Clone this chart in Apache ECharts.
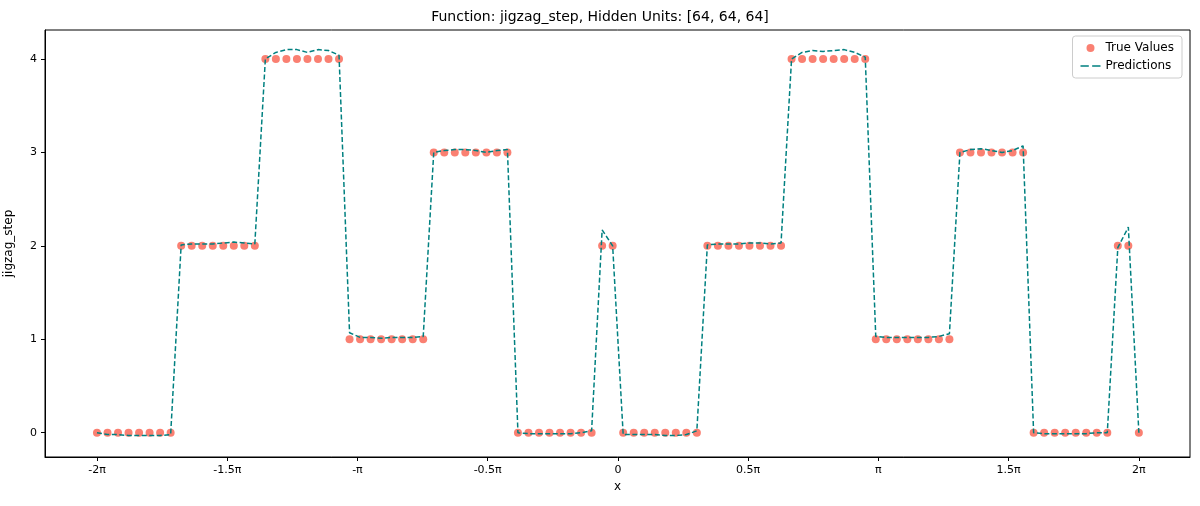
<!DOCTYPE html>
<html lang="en">
<head>
  <meta charset="UTF-8">
  <title>jigzag_step</title>
  <style>body{margin:0;background:#fff}</style>
</head>
<body>
<div id="main" style="width:1200px;height:506px;"></div>
<script src="https://cdn.jsdelivr.net/npm/echarts@6/dist/echarts.min.js"></script>
<script type="text/javascript">
  const PI = Math.PI
  // 100 evenly spaced samples on [-2π, 2π]
  const xs = Array.from({length: 100}, (d, i) => -2 * PI + i * 4 * PI / 99)

  const trueValues = [
    0, 0, 0, 0, 0, 0, 0, 0,
    2, 2, 2, 2, 2, 2, 2, 2,
    4, 4, 4, 4, 4, 4, 4, 4,
    1, 1, 1, 1, 1, 1, 1, 1,
    3, 3, 3, 3, 3, 3, 3, 3,
    0, 0, 0, 0, 0, 0, 0, 0,
    2, 2,
    0, 0, 0, 0, 0, 0, 0, 0,
    2, 2, 2, 2, 2, 2, 2, 2,
    4, 4, 4, 4, 4, 4, 4, 4,
    1, 1, 1, 1, 1, 1, 1, 1,
    3, 3, 3, 3, 3, 3, 3,
    0, 0, 0, 0, 0, 0, 0, 0,
    2, 2,
    0
  ]
  const predictions = [
    0.0, -0.02, -0.02, -0.03, -0.03, -0.03, -0.03, -0.02,
    2.01, 2.02, 2.02, 2.02, 2.03, 2.04, 2.03, 2.02,
    4.0, 4.07, 4.1, 4.1, 4.07, 4.1, 4.09, 4.04,
    1.07, 1.02, 1.02, 1.01, 1.02, 1.02, 1.02, 1.03,
    3.0, 3.02, 3.03, 3.03, 3.02, 3.0, 3.02, 3.03,
    0.0, -0.01, -0.01, -0.01, -0.01, -0.01, 0.0, 0.02,
    2.17, 2.0,
    -0.02, -0.02, -0.02, -0.02, -0.03, -0.03, -0.02, 0.02,
    2.01, 2.02, 2.02, 2.02, 2.03, 2.03, 2.02, 2.03,
    4.0, 4.07, 4.09, 4.08, 4.09, 4.1, 4.07, 4.02,
    1.03, 1.02, 1.02, 1.02, 1.02, 1.02, 1.03, 1.06,
    3.0, 3.03, 3.04, 3.02, 3.0, 3.02, 3.07,
    0.0, -0.01, -0.01, -0.01, -0.01, -0.01, 0.0, 0.0,
    1.98, 2.2,
    0.0
  ]
  const xTicks = [-2, -1.5, -1, -0.5, 0, 0.5, 1, 1.5, 2].map(k => k * PI)
  const xTickLabels = ['-2π', '-1.5π', '-π', '-0.5π', '0', '0.5π', 'π', '1.5π', '2π']
  const yTicks = [0, 1, 2, 3, 4]

  const font = 'DejaVu Sans'
  const Chart = echarts.init(document.getElementById('main'))
  const option = {
    animation: false,
    textStyle: {fontFamily: font},
    title: {
      text: 'Function: jigzag_step, Hidden Units: [64, 64, 64]',
      left: 'center', top: 5,
      textStyle: {fontSize: 14, fontWeight: 'normal', color: '#000', fontFamily: font}
    },
    legend: {
      right: 18, top: 36, orient: 'vertical',
      backgroundColor: '#fff', borderColor: '#ccc', borderWidth: 1, borderRadius: 3,
      padding: [6, 8], itemGap: 6,
      textStyle: {fontSize: 12, color: '#000', fontFamily: font},
      data: [
        {name: 'True Values', icon: 'circle', itemStyle: {color: '#fa8072'}},
        {name: 'Predictions', icon: 'path://M0,0H10V2H0Z M14,0H24V2H14Z', itemStyle: {color: '#008080'}}
      ],
      itemWidth: 20, itemHeight: 8
    },
    grid: {left: 45, right: 10, top: 30, bottom: 49, containLabel: false, outerBoundsMode: 'none'},
    xAxis: {
      type: 'value', min: -6.91, max: 6.90,
      name: 'x', nameLocation: 'middle', nameGap: 24,
      nameTextStyle: {fontSize: 12, color: '#000'},
      axisLine: {onZero: false, lineStyle: {color: '#000'}},
      axisTick: {show: true, customValues: xTicks, length: 4, inside: false, lineStyle: {color: '#000'}},
      axisLabel: {
        customValues: xTicks, color: '#000', fontSize: 11,
        formatter: v => xTickLabels[xTicks.findIndex(t => Math.abs(t - v) < 1e-6)]
      },
      splitLine: {show: false}
    },
    yAxis: {
      type: 'value', min: -0.26, max: 4.31,
      name: 'jigzag_step', nameLocation: 'middle', nameGap: 30,
      nameTextStyle: {fontSize: 12, color: '#000'},
      axisLine: {show: true, onZero: false, lineStyle: {color: '#000'}},
      axisTick: {show: true, customValues: yTicks, length: 4, lineStyle: {color: '#000'}},
      axisLabel: {customValues: yTicks, color: '#000', fontSize: 11},
      splitLine: {show: false}
    },
    series: [{
      name: 'True Values',
      type: 'scatter',
      symbolSize: 8,
      itemStyle: {color: '#fa8072', opacity: 1},
      data: xs.map((x, i) => [x, trueValues[i]]),
      z: 2
    }, {
      name: 'Predictions',
      type: 'line',
      showSymbol: false,
      lineStyle: {color: '#008080', width: 1.5, type: [5, 2.5]},
      itemStyle: {color: '#008080'},
      data: xs.map((x, i) => [x, predictions[i]]),
      z: 3
    }],
    graphic: [{
      type: 'rect', shape: {x: 45, y: 30, width: 1145, height: 427},
      style: {fill: 'none', stroke: '#000', lineWidth: 1}, silent: true
    }]
  }
  Chart.setOption(option)
</script>
</body>
</html>
